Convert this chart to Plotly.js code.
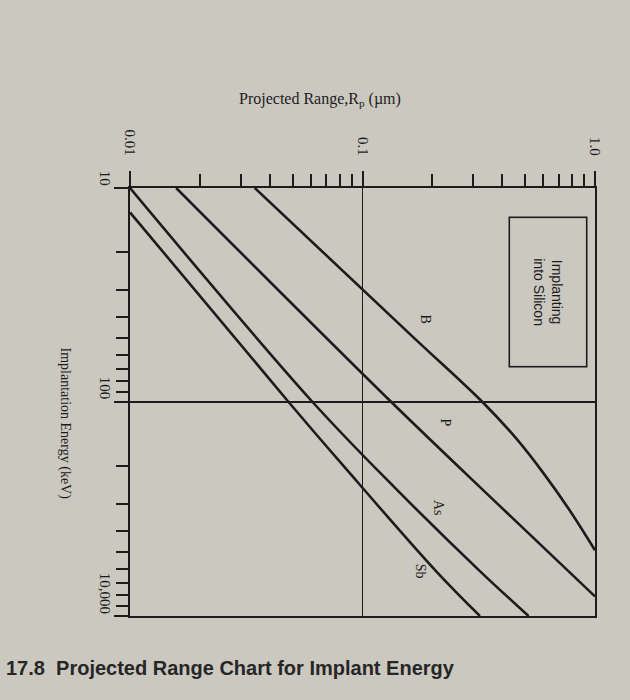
<!DOCTYPE html>
<html>
<head>
<meta charset="utf-8">
<script src="https://cdn.plot.ly/plotly-3.0.1.min.js"></script>
<style>
  html, body { margin: 0; padding: 0; background: #cbc8c0; }
  #chart { width: 630px; height: 700px; }
</style>
</head>
<body>
<div id="chart"></div>
<script>
// Implantation energy (keV) and projected range Rp (µm)
const energyB  = [10, 50, 100, 150, 215, 318, 493];
const rangeB   = [0.0344, 0.166, 0.328, 0.463, 0.600, 0.774, 1.0];

const energyP  = [10, 100, 300, 810];
const rangeP   = [0.0158, 0.133, 0.382, 1.0];

const energyAs = [10, 100, 250, 625, 1000];
const rangeAs  = [0.01, 0.061, 0.137, 0.324, 0.518];

const energySb = [13, 100, 200, 620, 1000];
const rangeSb  = [0.01, 0.0481, 0.0832, 0.208, 0.32];

// curve labels and where they sit (energy keV, range µm)
const labelNames  = ['B', 'P', 'As', 'Sb'];
const labelEnergy = [41, 125, 314, 615];
const labelRange  = [0.187, 0.227, 0.212, 0.177];

// tick values / labels
const rangeTickVals   = [0.01, 0.1, 1];
const rangeTickText   = ['0.01', '0.1', '1.0'];
const rangeMinorVals  = [0.02,0.03,0.04,0.05,0.06,0.07,0.08,0.09,0.2,0.3,0.4,0.5,0.6,0.7,0.8,0.9];
const energyTickVals  = [10, 100, 1000];
const energyTickText  = ['10', '100', '10,000'];
const energyMinorVals = [20,30,40,50,60,70,80,90,200,300,400,500,600,700,800,900];

const ink = '#1c1c1c';
const bg = '#cbc8c0';
const serif = 'Liberation Serif, Times New Roman, serif';
const sans = 'Liberation Sans, Arial, sans-serif';

const series = [
  {name: 'B',  x: rangeB,  y: energyB},
  {name: 'P',  x: rangeP,  y: energyP},
  {name: 'As', x: rangeAs, y: energyAs},
  {name: 'Sb', x: rangeSb, y: energySb}
];

const traces = series.map(s => ({
  type: 'scatter', mode: 'lines', name: s.name,
  x: s.x, y: s.y,
  line: {color: ink, width: 2.6, shape: 'spline', smoothing: 1},
  hoverinfo: 'skip', showlegend: false
}));

const annotations = labelNames.map((n, i) => ({
  text: n, xref: 'x', yref: 'y',
  x: Math.log10(labelRange[i]), y: Math.log10(labelEnergy[i]),
  showarrow: false, textangle: 90,
  font: {family: serif, size: 14, color: ink}
}));

// energy tick labels: rotated, each ending at its tick
energyTickVals.forEach((v, i) => {
  annotations.push({
    text: energyTickText[i], xref: 'paper', yref: 'y',
    x: -0.052, y: Math.log10(v), xanchor: 'center', yanchor: 'bottom',
    showarrow: false, textangle: 90,
    font: {family: serif, size: 15, color: ink}
  });
});

annotations.push({
  text: 'Implanting<br>into Silicon', xref: 'paper', yref: 'paper',
  x: 0.9, y: 0.757, xanchor: 'center', yanchor: 'middle',
  showarrow: false, textangle: 90, width: 142, height: 70,
  borderpad: 3, bordercolor: ink, borderwidth: 1.6,
  font: {family: sans, size: 14, color: ink}
});
annotations.push({
  text: 'Projected Range,R<sub>p</sub> (µm)', xref: 'paper', yref: 'paper',
  x: 0.409, y: 1.206, xanchor: 'center', yanchor: 'middle', showarrow: false,
  font: {family: serif, size: 16, color: ink}
});
annotations.push({
  text: 'Implantation Energy (keV)', xref: 'paper', yref: 'paper',
  x: -0.14, y: 0.45, xanchor: 'center', yanchor: 'middle', showarrow: false,
  textangle: 90, font: {family: serif, size: 14, color: ink}
});
annotations.push({
  text: '<b>17.8  Projected Range Chart for Implant Energy</b>', xref: 'paper', yref: 'paper',
  x: -0.27, y: -0.121, xanchor: 'left', yanchor: 'middle', showarrow: false,
  font: {family: sans, size: 20, color: '#262626'}
});

const layout = {
  width: 630, height: 700,
  margin: {l: 130, r: 35, t: 188, b: 84},
  paper_bgcolor: bg, plot_bgcolor: bg,
  showlegend: false,
  xaxis: {
    type: 'log', range: [-2, 0], side: 'top',
    showline: true, linecolor: ink, linewidth: 2, mirror: true,
    ticks: 'outside', ticklen: 15, tickwidth: 2, tickcolor: ink,
    tickmode: 'array', tickvals: rangeTickVals, ticktext: rangeTickText,
    tickangle: 90, ticklabelstandoff: 10,
    tickfont: {family: serif, size: 15, color: ink},
    showgrid: true, gridcolor: ink, gridwidth: 1.6,
    zeroline: false, fixedrange: true,
    minor: {tickmode: 'array', tickvals: rangeMinorVals, ticks: 'outside',
            ticklen: 12, tickwidth: 2, tickcolor: ink, showgrid: false}
  },
  yaxis: {
    type: 'log', range: [3, 1],
    showline: true, linecolor: ink, linewidth: 2, mirror: true,
    ticks: 'outside', ticklen: 14, tickwidth: 2, tickcolor: ink,
    tickmode: 'array', tickvals: energyTickVals, ticktext: energyTickText,
    showticklabels: false,
    showgrid: true, gridcolor: ink, gridwidth: 1.6,
    zeroline: false, fixedrange: true,
    minor: {tickmode: 'array', tickvals: energyMinorVals, ticks: 'outside',
            ticklen: 12, tickwidth: 2, tickcolor: ink, showgrid: false}
  },
  annotations: annotations
};

Plotly.newPlot('chart', traces, layout, {displayModeBar: false, staticPlot: true});
</script>
</body>
</html>
